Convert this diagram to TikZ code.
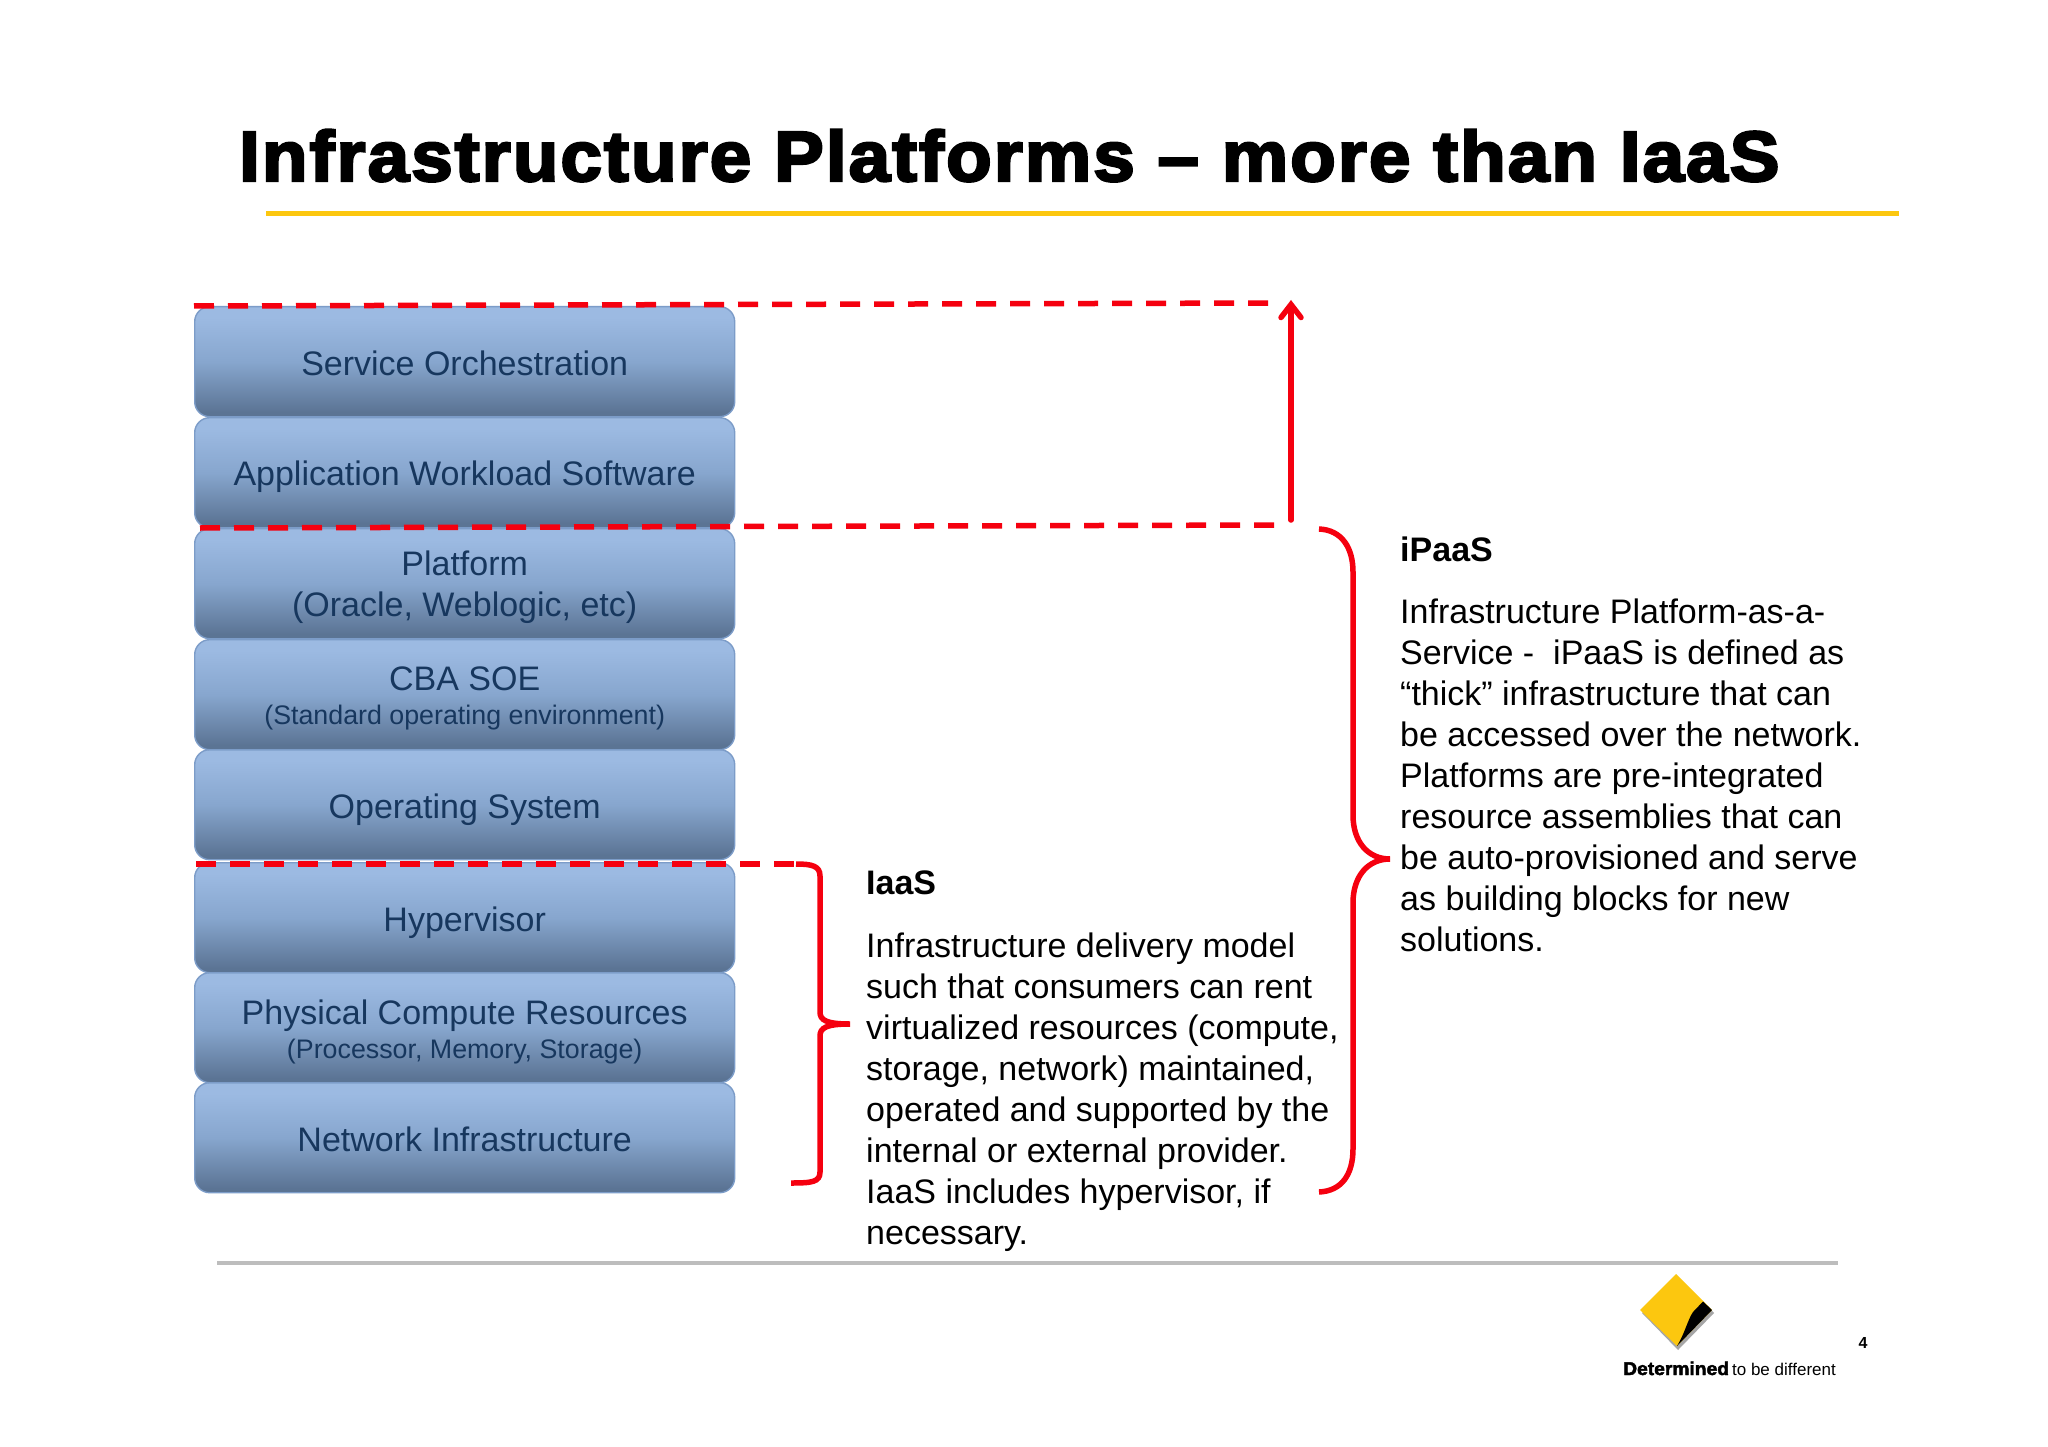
\documentclass[tikz,border=0pt]{standalone}
\usepackage{fontspec}
\setmainfont{Liberation Sans}
\newfontfamily\titlefont[FakeBold=3.5,FakeStretch=1.05,LetterSpace=2.97]{Liberation Sans Bold}
\newfontfamily\logofont[FakeBold=2.5,FakeStretch=1.04]{Liberation Sans Bold}
\usetikzlibrary{arrows.meta,positioning}
\definecolor{boxtop}{HTML}{9CBAE2}
\definecolor{boxmid}{HTML}{87A6CE}
\definecolor{boxbot}{HTML}{5B7494}
\definecolor{boxedge}{HTML}{7C9CC8}
\definecolor{boxtext}{HTML}{17375E}
\definecolor{redline}{HTML}{F5000F}
\definecolor{gold}{HTML}{FCC70F}
\pgfdeclareverticalshading{boxshade}{100bp}{color(0bp)=(boxbot); color(27bp)=(boxbot); color(50bp)=(boxmid); color(70bp)=(boxtop); color(100bp)=(boxtop)}
\tikzset{
  x=1pt,y=-1pt,
  stackbox/.style={draw=boxedge,line width=1.4pt,rounded corners=15pt,shading=boxshade,
    minimum width=540pt,minimum height=110pt,inner sep=0pt,anchor=north west},
  boxlabel/.style={inner sep=0pt,align=center,anchor=center,
    text=boxtext,font=\fontsize{34}{41}\selectfont},
  redsolid/.style={draw=redline,line width=5.5pt,line cap=round},
  reddash/.style={draw=redline,line width=5.5pt,dash pattern=on 20pt off 14pt},
  bodytext/.style={anchor=north west,inner sep=0pt,align=left,text=black,
    font=\fontsize{34}{41}\selectfont},
}
\newcommand{\smalltxt}[1]{{\fontsize{26.8}{34}\selectfont #1}}
\begin{document}
\begin{tikzpicture}
\useasboundingbox (0,0) rectangle (2048,1447);
\fill[white] (0,0) rectangle (2048,1447);
% title
\node[anchor=base west,inner sep=0pt] (title) at (239,181) {\titlefont\fontsize{71}{80}\selectfont Infrastructure Platforms – more than IaaS};
\coordinate (goldL) at (266,213.5);
\coordinate (goldR) at (1899,213.5);
\draw[gold,line width=5pt] (goldL) -- (goldR);
% stack
\node[stackbox] (net) at (194,1082) {};
\node[stackbox] (phys) at (194,972) {};
\node[stackbox] (hyp) at (194,862) {};
\node[stackbox] (os) at (194,749) {};
\node[stackbox] (soe) at (194,639) {};
\node[stackbox] (plat) at (194,528) {};
\node[stackbox] (app) at (194,417) {};
\node[stackbox] (svc) at (194,306) {};
\node[boxlabel] (netT) at ([yshift=-1.5pt]net.center) {Network Infrastructure};
\node[boxlabel] (physT) at ([yshift=-4.5pt]phys.center) {Physical Compute Resources\\[-7pt]\smalltxt{(Processor, Memory, Storage)}};
\node[boxlabel] (hypT) at ([yshift=-5pt]hyp.center) {Hypervisor};
\node[boxlabel] (osT) at ([yshift=-5pt]os.center) {Operating System};
\node[boxlabel] (soeT) at ([yshift=-4pt]soe.center) {CBA SOE\\[-7pt]\smalltxt{(Standard operating environment)}};
\node[boxlabel] (platT) at ([yshift=-4pt]plat.center) {Platform\\(Oracle, Weblogic, etc)};
\node[boxlabel] (appT) at ([yshift=-4pt]app.center) {Application Workload Software};
\node[boxlabel] (svcT) at ([yshift=-1.5pt]svc.center) {Service Orchestration};
% red markers
\coordinate (topR) at (1275,303);
\coordinate (midL) at (200,528);
\coordinate (midR) at (1278,525);
\coordinate (arrowB) at (1291,520);
\coordinate (arrowT) at (1291,300);
\draw[reddash] (svc.north west) -- (topR);
\draw[reddash] (midL) -- (midR);
\draw[redsolid,-{Straight Barb[length=13pt,width=20pt,line cap=round]}] (arrowB) -- (arrowT);
% IaaS bracket
\coordinate (iaasS) at (196,864);
\coordinate (iaasC) at (796,864);
\draw[reddash] (iaasS) -- (iaasC);
\draw[redsolid,line cap=butt] (iaasC) .. controls (812,864) and (820,866) .. (820,876)
  -- (820,1012) .. controls (820,1020) and (826,1024) .. (850,1024)
  .. controls (826,1024) and (820,1028) .. (820,1036)
  -- (820,1172) .. controls (820,1182) and (812,1183) .. (791,1183);
% iPaaS brace
\coordinate (ipS) at (1319,529);
\coordinate (ipE) at (1319,1192);
\coordinate (ipT) at (1390,859);
\draw[redsolid,line cap=butt] (ipS) .. controls (1342,530) and (1353,548) .. (1353,572)
  -- (1353,815) .. controls (1353,842) and (1368,859) .. (ipT)
  .. controls (1368,859) and (1353,876) .. (1353,903)
  -- (1353,1149) .. controls (1353,1174) and (1342,1191) .. (ipE);
% text
\node[anchor=base west,inner sep=0pt,font=\fontsize{34}{41}\selectfont\bfseries] (iaasH) at (866,894) {IaaS};
\node[bodytext] (iaasB) at (866,933) {Infrastructure delivery model\\
such that consumers can rent\\
virtualized resources (compute,\\
storage, network) maintained,\\
operated and supported by the\\
internal or external provider.\\
IaaS includes hypervisor, if\\
necessary.};
\node[anchor=base west,inner sep=0pt,font=\fontsize{34}{41}\selectfont\bfseries] (ipH) at (1400,561) {iPaaS};
\node[bodytext] (ipB) at (1400,599) {Infrastructure Platform-as-a-\\
Service -\ \ iPaaS is defined as\\
“thick” infrastructure that can\\
be accessed over the network.\\
Platforms are pre-integrated\\
resource assemblies that can\\
be auto-provisioned and serve\\
as building blocks for new\\
solutions.};
% footer
\coordinate (ruleL) at (217,1263);
\coordinate (ruleR) at (1838,1263);
\draw[black!26,line width=4pt] (ruleL) -- (ruleR);
% logo
\fill[black!35] (1642,1313) -- (1678,1350) -- (1714,1313) -- (1678,1277) -- cycle;
\fill[gold] (1676,1274) -- (1640,1310) -- (1677,1346) -- (1712,1310) -- cycle;
\fill[black] (1703,1301.5) -- (1712,1310) -- (1677,1346) .. controls (1685,1333) and (1688,1319) .. (1693,1312) -- cycle;
\node[anchor=base west,inner sep=0pt] (tag) at (1623,1375) {\fontsize{18.5}{20}\selectfont{\logofont Determined}\,{\fontsize{17}{20}\selectfont to be different}};
\node[anchor=center,inner sep=0pt,font=\fontsize{16}{18}\selectfont\bfseries] (pageno) at (1863,1343) {4};
\end{tikzpicture}
\end{document}
